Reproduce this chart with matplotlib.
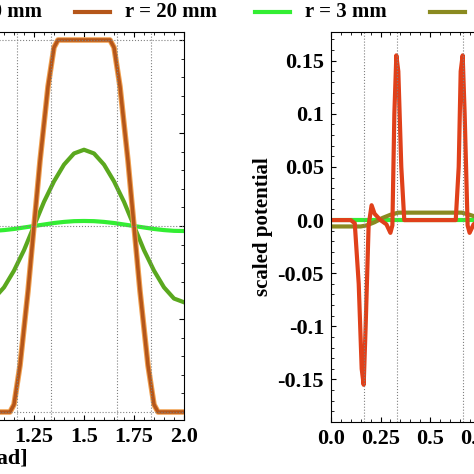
import matplotlib
matplotlib.use('Agg')
import matplotlib.pyplot as plt
from matplotlib.lines import Line2D
from matplotlib.ticker import AutoMinorLocator

plt.rcParams['font.family'] = ['Liberation Serif', 'DejaVu Serif']
plt.rcParams['font.weight'] = 'bold'

# left panel: values
phi = [1.0, 1.10, 1.13, 1.15, 1.18, 1.22, 1.25, 1.28, 1.32, 1.35, 1.37, 1.40, 1.50,
       1.60, 1.63, 1.65, 1.68, 1.72, 1.75, 1.78, 1.82, 1.85, 1.87, 1.90, 2.0]
v_r20 = [-1.0, -1.0, -1.0, -0.96, -0.75, -0.35, 0.0, 0.35, 0.75, 0.96, 1.0, 1.0, 1.0,
         1.0, 1.0, 0.96, 0.75, 0.35, 0.0, -0.35, -0.75, -0.96, -1.0, -1.0, -1.0]
phi_s = [1.0, 1.05, 1.1, 1.15, 1.2, 1.25, 1.3, 1.35, 1.4, 1.45, 1.5, 1.55, 1.6, 1.65,
         1.7, 1.75, 1.8, 1.85, 1.9, 1.95, 2.0]
v_mid = [-0.41, -0.39, -0.33, -0.24, -0.13, 0.0, 0.13, 0.24, 0.33, 0.39, 0.41, 0.39,
         0.33, 0.24, 0.13, 0.0, -0.13, -0.24, -0.33, -0.39, -0.41]
v_r3 = [-0.027, -0.026, -0.022, -0.016, -0.008, 0.0, 0.008, 0.016, 0.022, 0.026, 0.027,
        0.026, 0.022, 0.016, 0.008, 0.0, -0.008, -0.016, -0.022, -0.026, -0.027]

# right panel
t = [0.0, 0.10, 0.12, 0.14, 0.155, 0.165, 0.175, 0.19, 0.205, 0.22, 0.25, 0.28, 0.30,
     0.31, 0.32, 0.33, 0.34, 0.355, 0.37, 0.40, 0.60, 0.63, 0.645, 0.655, 0.665, 0.675,
     0.69, 0.70, 0.72, 0.75]
p_r20 = [0.0, 0.0, -0.003, -0.06, -0.14, -0.155, -0.10, -0.005, 0.014, 0.006, 0.0,
         -0.004, -0.012, -0.005, 0.10, 0.155, 0.14, 0.05, 0.0, 0.0, 0.0, 0.0, 0.05,
         0.14, 0.155, 0.10, -0.005, -0.012, -0.004, 0.0]
t_o = [0.0, 0.15, 0.18, 0.22, 0.26, 0.30, 0.34, 0.40, 0.60, 0.66, 0.70, 0.75]
p_olive = [-0.006, -0.006, -0.005, -0.002, 0.002, 0.005, 0.007, 0.007, 0.007, 0.007,
           0.005, 0.002]
p_r3 = [0.0] * len(t_o)

c_r20 = '#b5561a'
c_mid = '#5aa81e'
c_r3 = '#33ee33'
c_red = '#e0401a'
c_olive = '#8a8a20'

W = 474
fig = plt.figure(figsize=(4.74, 4.74), dpi=100)
ax1 = fig.add_axes([-16 / W, 54 / W, 200 / W, 388 / W])
ax2 = fig.add_axes([331 / W, 52 / W, 198 / W, 390 / W])

for ax in (ax1, ax2):
    ax.tick_params(direction='in', top=True, right=True, which='both', labelsize=16, pad=5)
    ax.xaxis.set_minor_locator(AutoMinorLocator(5))
    ax.yaxis.set_minor_locator(AutoMinorLocator(5))

ax1.plot(phi_s, v_r3, color=c_r3, lw=3)
ax1.plot(phi_s, v_mid, color=c_mid, lw=3)
ax1.plot(phi, v_r20, color='#f0a050', lw=4)
ax1.plot(phi, v_r20, color=c_r20, lw=2.5)
for x in [1.1667, 1.3333, 1.6667, 1.8333]:
    ax1.axvline(x, color='gray', ls=':', lw=0.8)
for y in [-1, 0, 1]:
    ax1.axhline(y, color='gray', ls=':', lw=0.8)
ax1.set_xlim(1.0, 2.0)
ax1.set_ylim(-1.043, 1.043)
ax1.set_xticks([1.0, 1.25, 1.5, 1.75, 2.0])
ax1.set_xticklabels(['1.0', '1.25', '1.5', '1.75', '2.0'], fontweight='bold')
ax1.set_xlabel('φ [rad]', fontsize=16, fontweight='bold', ha='right')
ax1.xaxis.set_label_coords(0.22, -0.075)

ax2.plot(t_o, p_r3, color=c_r3, lw=3)
ax2.plot(t_o, p_olive, color=c_olive, lw=3)
ax2.plot(t, p_r20, color=c_red, lw=3)
for x in [0.1667, 0.3333, 0.6667]:
    ax2.axvline(x, color='gray', ls=':', lw=0.8)
ax2.set_xlim(0.0, 1.0)
ax2.set_ylim(-0.19, 0.177)
ax2.set_xticks([0.0, 0.25, 0.5, 0.75, 1.0])
ax2.set_xticklabels(['0.0', '0.25', '0.5', '0.75', '1.0'], fontweight='bold')
ax2.set_yticks([-0.15, -0.1, -0.05, 0.0, 0.05, 0.1, 0.15])
ax2.set_yticklabels(['-0.15', '-0.1', '-0.05', '0.0', '0.05', '0.1', '0.15'], fontweight='bold')
ax2.set_ylabel('scaled potential', fontsize=15, fontweight='bold', labelpad=3)

# legend row across the top
legend_items = [('r = 10 mm', c_mid, -100), ('r = 20 mm', c_r20, 75),
                ('r = 3 mm', c_r3, 255), ('r = 1 mm', c_olive, 430)]
yl = 1 - 12 / W
for label, col, x0 in legend_items:
    fig.add_artist(Line2D([x0 / W, (x0 + 35) / W], [yl, yl], color=col, lw=3,
                          transform=fig.transFigure))
    fig.text((x0 + 50) / W, yl, label, fontsize=15, fontweight='bold', va='center')

fig.savefig('out.png', dpi=100)
